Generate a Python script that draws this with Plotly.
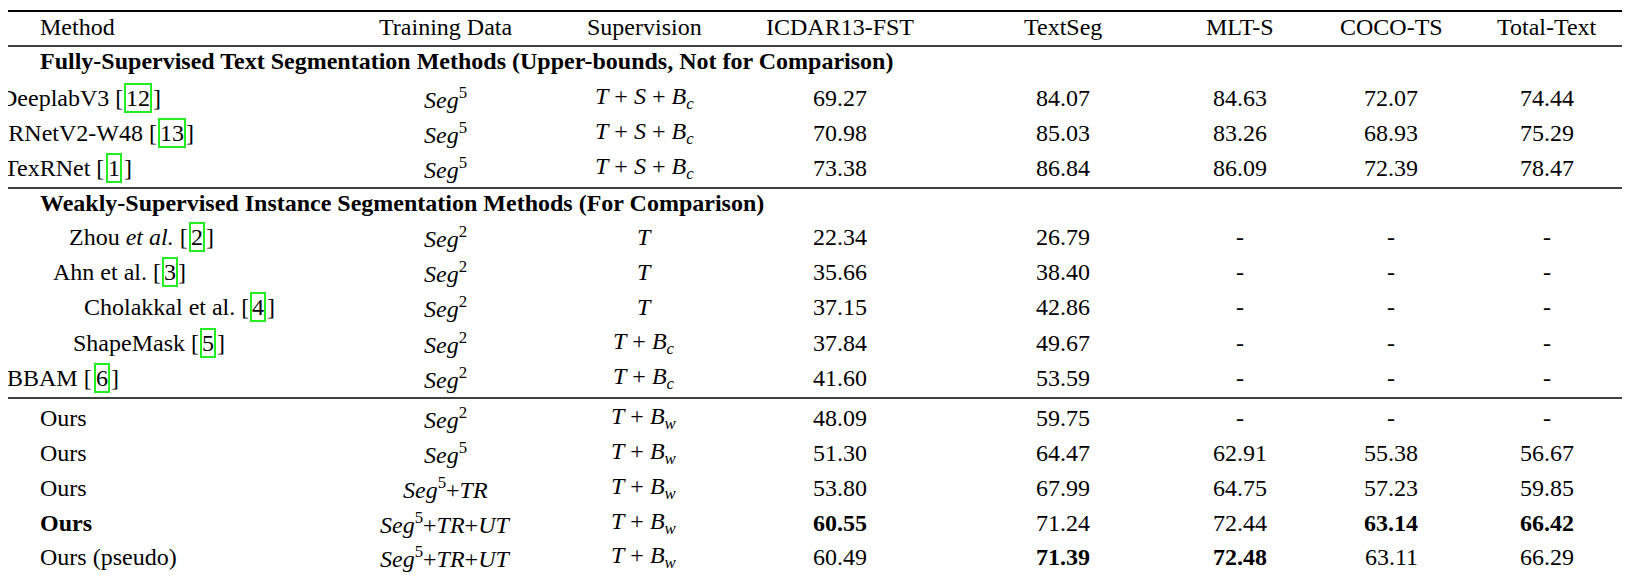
import plotly.graph_objects as go

headers = ["Method", "Training Data", "Supervision", "ICDAR13-FST", "TextSeg", "MLT-S", "COCO-TS", "Total-Text"]
sections = ["Fully-Supervised Text Segmentation Methods (Upper-bounds, Not for Comparison)",
            "Weakly-Supervised Instance Segmentation Methods (For Comparison)"]
method_names = ["DeeplabV3 [", "HRNetV2-W48 [", "TexRNet [",
                "Zhou <i>et al.</i> [", "Ahn et al. [", "Cholakkal et al. [", "ShapeMask [", "BBAM [",
                "Ours", "Ours", "Ours", "<b>Ours</b>", "Ours (pseudo)"]
citations = ["12", "13", "1", "2", "3", "4", "5", "6", "", "", "", "", ""]
SEG2 = "<i>Seg</i><sup>2</sup>"
SEG5 = "<i>Seg</i><sup>5</sup>"
training = [SEG5, SEG5, SEG5, SEG2, SEG2, SEG2, SEG2, SEG2, SEG2, SEG5,
            SEG5 + "+<i>TR</i>", SEG5 + "+<i>TR</i>+<i>UT</i>", SEG5 + "+<i>TR</i>+<i>UT</i>"]
TSB = "<i>T</i> + <i>S</i> + <i>B</i><sub><i>c</i></sub>"
TBC = "<i>T</i> + <i>B</i><sub><i>c</i></sub>"
TBW = "<i>T</i> + <i>B</i><sub><i>w</i></sub>"
supervision = [TSB, TSB, TSB, "<i>T</i>", "<i>T</i>", "<i>T</i>", TBC, TBC, TBW, TBW, TBW, TBW, TBW]
icdar = ["69.27", "70.98", "73.38", "22.34", "35.66", "37.15", "37.84", "41.60", "48.09", "51.30", "53.80", "<b>60.55</b>", "60.49"]
textseg = ["84.07", "85.03", "86.84", "26.79", "38.40", "42.86", "49.67", "53.59", "59.75", "64.47", "67.99", "71.24", "<b>71.39</b>"]
mlts = ["84.63", "83.26", "86.09", "-", "-", "-", "-", "-", "-", "62.91", "64.75", "72.44", "<b>72.48</b>"]
cocots = ["72.07", "68.93", "72.39", "-", "-", "-", "-", "-", "-", "55.38", "57.23", "<b>63.14</b>", "63.11"]
totaltext = ["74.44", "75.29", "78.47", "-", "-", "-", "-", "-", "-", "56.67", "59.85", "<b>66.42</b>", "66.29"]

# layout (pixels)
W, H = 1630, 575
FONT = "Liberation Serif, Times New Roman, serif"
FS = 24
col_x = [30, 437, 636, 832, 1055, 1232, 1383, 1539]
header_y = 19
section_y = [53, 195]
row_y = [90, 125, 160, 229, 264, 299, 335, 370, 410, 445, 480, 515, 549]
hlines = [(3, 2.2), (38, 1.3), (180, 1.3), (390, 1.3), (571, 2.2)]
cite_x = [(118, 142), (152, 175), (99, 113), (183, 195), (156, 167), (244, 256), (194, 206), (87, 100)]

fig = go.Figure()
ann = []
def add(x, y, text, align="center", **kw):
    ann.append(dict(x=x, y=y, xref="x", yref="y", text=text, showarrow=False,
                    xanchor=align, yanchor="middle",
                    font=dict(family=FONT, size=FS, color="black"), **kw))

for i, h in enumerate(headers):
    add(col_x[i], header_y, h, "left" if i == 0 else "center")
for s, y in zip(sections, section_y):
    add(col_x[0], y, "<b>" + s + "</b>", "left")
cols = [training, supervision, icdar, textseg, mlts, cocots, totaltext]
for r, y in enumerate(row_y):
    if citations[r]:
        x0, x1 = cite_x[r]
        add(x0 - 1, y, method_names[r], "right")
        add((x0 + x1) / 2, y, citations[r], "center", bordercolor="#22ee22",
            borderwidth=2, borderpad=0)
        add(x1 + 1, y, "]", "left")
    else:
        add(col_x[0], y, method_names[r], "left")
    for c, col in enumerate(cols):
        add(col_x[c + 1], y, col[r], "center")

shapes = [dict(type="line", xref="x", yref="y", x0=0, x1=W, y0=y, y1=y,
               line=dict(color="black", width=w)) for y, w in hlines]

fig.update_layout(width=W, height=H, margin=dict(l=0, r=0, t=0, b=0),
                  plot_bgcolor="white", paper_bgcolor="white",
                  xaxis=dict(range=[0, W], visible=False, fixedrange=True),
                  yaxis=dict(range=[H, 0], visible=False, fixedrange=True),
                  annotations=ann, shapes=shapes, showlegend=False)
fig.write_html("out.html")
